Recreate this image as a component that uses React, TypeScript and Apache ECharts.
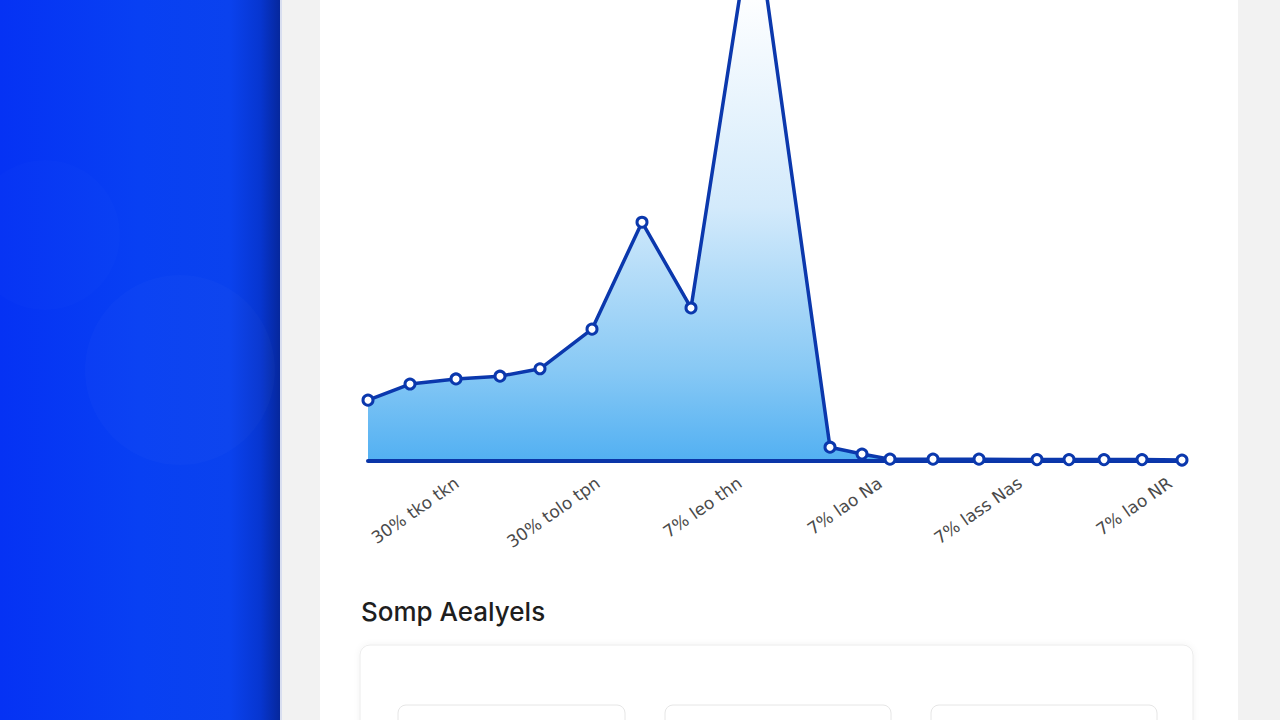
import React, { useEffect, useRef } from "react";
import * as echarts from "echarts";

// x position of each point (arbitrary time units) and its value
const xValues = [0, 42, 88, 132, 172, 224, 274, 323, 386, 462, 494, 522, 565, 611, 669, 701, 736, 774, 814];
const yValues = [13.2, 16.7, 17.8, 18.4, 20.0, 28.6, 51.8, 33.2, 120.6, 3.0, 1.5, 0.4, 0.4, 0.4, 0.3, 0.3, 0.3, 0.3, 0.2];

// tick label positions and texts
const tickValues = [89, 230, 372, 512, 652, 802];
const tickLabels = ["30% tko tkn", "30% tolo tpn", "7% leo thn", "7% lao Na", "7% lass Nas", "7% lao NR"];

const sectionTitle = "Somp Aealyels";

export default function App() {
  const ref = useRef<HTMLDivElement>(null);

  useEffect(() => {
    document.body.style.margin = "0";
    document.body.style.overflow = "hidden";
    const chart = echarts.init(ref.current!, undefined, { renderer: "svg" });
    const data = xValues.map((x, i) => [x, yValues[i]]);
    const labelMap: Record<number, string> = {};
    tickValues.forEach((v, i) => (labelMap[v] = tickLabels[i]));

    chart.setOption({
      animation: false,
      backgroundColor: "#ffffff",
      grid: { left: 368, right: 98, top: 0, bottom: 259, containLabel: false },
      xAxis: {
        type: "value",
        min: 0,
        max: 814,
        z: 2,
        axisLine: { show: true, onZero: true, lineStyle: { color: "#0a35a8", width: 4 } },
        axisTick: { show: false },
        splitLine: { show: false },
        axisLabel: {
          customValues: tickValues,
          rotate: 35,
          margin: 20,
          fontSize: 17,
          color: "#4a4a4a",
          fontFamily: "DejaVu Sans",
          formatter: (v: number) => labelMap[v] ?? "",
        },
      },
      yAxis: {
        type: "value",
        min: 0,
        max: 100,
        show: false,
        splitLine: { show: false },
      },
      graphic: [
        {
          type: "rect",
          z: -10,
          shape: { x: 0, y: 0, width: 280, height: 720 },
          style: {
            fill: new echarts.graphic.LinearGradient(0, 0, 1, 0, [
              { offset: 0, color: "#0532f4" },
              { offset: 0.5, color: "#0840f3" },
              { offset: 0.82, color: "#0a42ee" },
              { offset: 0.93, color: "#0736d0" },
              { offset: 1, color: "#06279c" },
            ]),
          },
        },
        { type: "circle", z: -9, shape: { cx: 45, cy: 235, r: 75 }, style: { fill: "rgba(255,255,255,0.012)" } },
        { type: "circle", z: -9, shape: { cx: 180, cy: 370, r: 95 }, style: { fill: "rgba(255,255,255,0.018)" } },
        { type: "rect", z: -10, shape: { x: 280, y: 0, width: 40, height: 720 }, style: { fill: "#f2f2f2" } },
        { type: "rect", z: -10, shape: { x: 280, y: 0, width: 2, height: 720 }, style: { fill: "#d8def0" } },
        { type: "rect", z: -10, shape: { x: 1238, y: 0, width: 42, height: 720 }, style: { fill: "#f2f2f2" } },
        {
          type: "text",
          z: 5,
          x: 361,
          y: 611,
          style: {
            text: sectionTitle,
            fontSize: 26,
            fontWeight: 500,
            fontFamily: "Inter",
            fill: "#1e1e1e",
            verticalAlign: "middle",
          },
        },
        {
          type: "rect",
          z: 4,
          shape: { x: 360, y: 645, width: 833, height: 120, r: 10 },
          style: {
            fill: "#ffffff",
            stroke: "#ececec",
            lineWidth: 1,
            shadowBlur: 6,
            shadowColor: "rgba(0,0,0,0.05)",
          },
        },
        { type: "rect", z: 5, shape: { x: 398, y: 705, width: 227, height: 40, r: 8 }, style: { fill: "#fff", stroke: "#e6e6e6", lineWidth: 1 } },
        { type: "rect", z: 5, shape: { x: 665, y: 705, width: 226, height: 40, r: 8 }, style: { fill: "#fff", stroke: "#e6e6e6", lineWidth: 1 } },
        { type: "rect", z: 5, shape: { x: 931, y: 705, width: 226, height: 40, r: 8 }, style: { fill: "#fff", stroke: "#e6e6e6", lineWidth: 1 } },
      ],
      series: [
        {
          type: "line",
          z: 1,
          data,
          showSymbol: false,
          lineStyle: { width: 0 },
          areaStyle: {
            opacity: 1,
            color: new echarts.graphic.LinearGradient(
              0, 0, 0, 461,
              [
                { offset: 0, color: "#fdfeff" },
                { offset: 0.45, color: "#d3eafb" },
                { offset: 0.8, color: "#88c9f5" },
                { offset: 1, color: "#52b0f2" },
              ],
              true
            ),
          },
          silent: true,
        },
        {
          type: "line",
          z: 3,
          data,
          symbol: "circle",
          symbolSize: 10,
          lineStyle: { color: "#0b38ad", width: 3.5 },
          itemStyle: { color: "#ffffff", borderColor: "#0b38ad", borderWidth: 3 },
        },
      ],
    });
    return () => chart.dispose();
  }, []);

  return <div ref={ref} style={{ position: "absolute", left: 0, top: 0, width: 1280, height: 720 }} />;
}
